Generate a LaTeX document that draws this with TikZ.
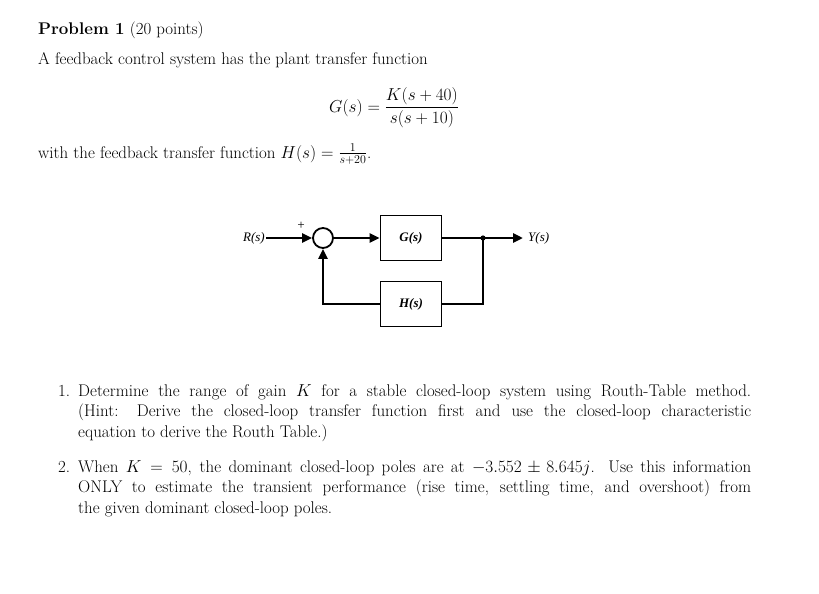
\documentclass[tikz,border=0pt]{standalone}
\usepackage{fontspec}
\usepackage{amsmath}
\newfontfamily\dfont{Liberation Serif}
\usetikzlibrary{arrows.meta}
\tikzset{
  txt/.style={anchor=base west,inner sep=0pt,font=\fontsize{16.9}{20}\selectfont},
  blk/.style={draw,line width=1.8pt,minimum width=61pt,minimum height=45pt,font=\dfont\fontsize{13}{15}\selectfont\itshape},
  sig/.style={line width=2.8pt,-{Triangle[length=10pt,width=9pt]}},
  ln/.style={line width=2.8pt},
  lab/.style={font=\dfont\fontsize{13}{15}\selectfont\itshape,inner sep=1pt}
}
\begin{document}
\begin{tikzpicture}[x=1pt,y=-1pt]
\useasboundingbox (0,0) rectangle (819,594);
\node[txt] (title) at (38,35) {\textbf{Problem 1} (20 points)};
\node[txt] (l1) at (38,65) {A feedback control system has the plant transfer function};
\node[txt] (eq) at (329,112) {$\displaystyle G(s)=\frac{K(s+40)}{s(s+10)}$};
\node[txt] (l2) at (38,158) {with the feedback transfer function $H(s)=\frac{1}{s+20}$.};
% diagram
\node[lab,anchor=east] (R) at (266,238) {R(s)};
\node[draw,circle,line width=1.8pt,minimum size=20pt,inner sep=0pt] (sum) at (323,238) {};
\node[lab] (plus) at (301,226) {+};
\node[blk] (G) at (411,238) {\textbf{G(s)}};
\node[blk] (H) at (411,304) {\textbf{H(s)}};
\coordinate (J) at (483,238);
\coordinate (Yend) at (523,238);
\node[lab,anchor=west] (Y) at (527,238) {Y(s)};
\draw[sig] (R) -- (sum);
\draw[sig] (sum) -- (G);
\draw[ln] (G) -- (J);
\draw[sig] (J) -- (Yend);
\fill (J) circle (2.6pt);
\draw[ln] (J) |- (H.east);
\draw[sig] (H.west) -| (sum.south);
% list
\node[txt] (n1) at (58,396) {1.};
\node[txt] (a1) at (78,396) {\makebox[673pt][s]{Determine the range of gain $K$ for a stable closed-loop system using Routh-Table method.}};
\node[txt] (a2) at (78,416) {\makebox[673pt][s]{(Hint: Derive the closed-loop transfer function first and use the closed-loop characteristic}};
\node[txt] (a3) at (78,437) {equation to derive the Routh Table.)};
\node[txt] (n2) at (58,472) {2.};
\node[txt] (b1) at (78,472) {\makebox[673pt][s]{When $K=50$, the dominant closed-loop poles are at $-3.552\pm 8.645j$. Use this information}};
\node[txt] (b2) at (78,492) {\makebox[673pt][s]{ONLY to estimate the transient performance (rise time, settling time, and overshoot) from}};
\node[txt] (b3) at (78,513) {the given dominant closed-loop poles.};
\end{tikzpicture}
\end{document}
